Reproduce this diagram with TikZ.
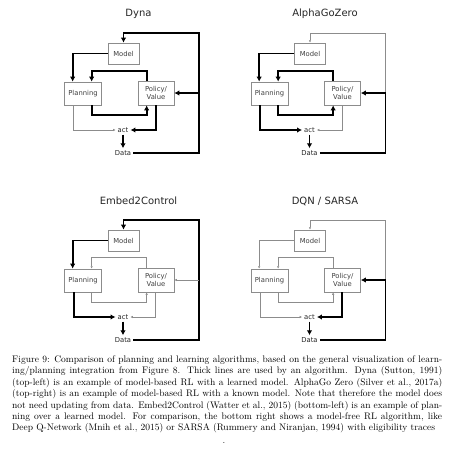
\documentclass[tikz,border=0pt]{standalone}
\usepackage{fontspec}
\newfontfamily\djv{DejaVu Sans}
\usetikzlibrary{arrows.meta}
\tikzset{
  thk/.style={line width=1.8pt, black, -{Latex[length=5pt,width=5.5pt]}},
  thkn/.style={line width=1.8pt, black},
  thn/.style={line width=0.5pt, black!45, -{Latex[length=2.4pt,width=2.4pt]}},
  thnn/.style={line width=0.5pt, black!45},
  bx/.style={draw=black!45, line width=0.7pt, fill=white, inner sep=0pt,
    font=\djv\fontsize{6.8}{8}\selectfont, text=black!75},
  lbl/.style={inner sep=2pt, font=\djv\fontsize{6.8}{8}\selectfont, text=black!85},
  ttl/.style={font=\djv\fontsize{10}{12}\selectfont, text=black!85},
}
\newcommand\panelnodes[2]{%
  \node[ttl] (#1t) at (138.5,14) {#2};
  \node[bx, minimum width=31pt, minimum height=21pt] (#1m) at (123.5,53.5) {Model};
  \node[bx, minimum width=37pt, minimum height=23pt] (#1p) at (83,93.5) {Planning};
  \node[bx, minimum width=36pt, minimum height=24pt, align=center] (#1v) at (156,93) {Policy/\\Value};
  \node[lbl] (#1a) at (123,130) {act};
  \node[lbl] (#1d) at (123,153) {Data};
  \coordinate (#1top) at (199,33);
  \coordinate (#1br) at (199,93);
}
\newcommand\eMP[2]{\draw[#2] (#1m.west) -| ([xshift=8.5pt]#1p.north west);}
\newcommand\eVP[2]{\draw[#2] ([xshift=9pt]#1v.north west) -- ++(0,-10) -| ([xshift=27.5pt]#1p.north west);}
\newcommand\ePV[2]{\draw[#2] ([xshift=27.5pt]#1p.south west) -- ++(0,10) -| ([xshift=9pt]#1v.south west);}
\newcommand\eVA[2]{\draw[#2] ([xshift=18pt]#1v.south west) |- (#1a.east);}
\newcommand\ePA[2]{\draw[#2] ([xshift=9.5pt]#1p.south west) |- (#1a.west);}
\newcommand\eAD[2]{\draw[#2] (#1a) -- (#1d);}
\newcommand\eRailFull[2]{\draw[#2] (#1d.east) -| (#1top) -| (#1m.north);}
\newcommand\eRailLow[2]{\draw[#2] (#1d.east) -| (#1br) -- (#1v.east);}
\newcommand\eRailUp[2]{\draw[#2] (#1br) -- (#1top) -| (#1m.north);}
\newcommand\eBranch[2]{\draw[#2] (#1br) -- (#1v.east);}
\begin{document}
\begin{tikzpicture}[x=1pt,y=-1pt]
\useasboundingbox (0,0) rectangle (474,450);
\fill[white] (0,0) rectangle (474,450);
% Dyna
\begin{scope}
  \panelnodes{A}{Dyna}
  \eMP{A}{thk} \eVP{A}{thk} \ePV{A}{thk} \eVA{A}{thk} \ePA{A}{thn} \eAD{A}{thk}
  \eRailFull{A}{thk} \eBranch{A}{thk}
\end{scope}
% AlphaGoZero
\begin{scope}[shift={(186.5,0)}]
  \panelnodes{B}{AlphaGoZero}
  \eMP{B}{thk} \eVP{B}{thk} \ePV{B}{thk} \eVA{B}{thn} \ePA{B}{thk} \eAD{B}{thk}
  \eRailUp{B}{thn} \eRailLow{B}{thk}
\end{scope}
% Embed2Control
\begin{scope}[shift={(0,187)}]
  \panelnodes{C}{Embed2Control}
  \eMP{C}{thk} \eVP{C}{thn} \ePV{C}{thn} \eVA{C}{thn} \ePA{C}{thk} \eAD{C}{thk}
  \eRailFull{C}{thk} \eBranch{C}{thn}
\end{scope}
% DQN / SARSA
\begin{scope}[shift={(186.5,187)}]
  \panelnodes{D}{DQN / SARSA}
  \eMP{D}{thn} \eVP{D}{thn} \ePV{D}{thn} \eVA{D}{thk} \ePA{D}{thn} \eAD{D}{thk}
  \eRailUp{D}{thn} \eRailLow{D}{thk}
\end{scope}
% caption
\node[anchor=north west, inner sep=0pt, text width=430pt, align=justify,
      font=\fontsize{9.5}{11.4}\selectfont] (cap) at (12,355.5) {%
\hyphenpenalty=10000 \exhyphenpenalty=10000
Figure 9: Comparison of planning and learning algorithms, based on the general visualization of learn-\linebreak
ing/planning integration from Figure 8. Thick lines are used by an algorithm. Dyna (Sutton, 1991)\linebreak
(top-left) is an example of model-based RL with a learned model. AlphaGo Zero (Silver et~al., 2017a)\linebreak
(top-right) is an example of model-based RL with a known model. Note that therefore the model does\linebreak
not need updating from data. Embed2Control (Watter et~al., 2015) (bottom-left) is an example of plan-\linebreak
ning over a learned model. For comparison, the bottom right shows a model-free RL algorithm, like\linebreak
Deep Q-Network (Mnih et~al., 2015) or SARSA (Rummery and Niranjan, 1994) with eligibility traces};
\node[anchor=base, inner sep=0pt, font=\fontsize{9.5}{11.4}\selectfont] (dot) at (224,443) {.};
\end{tikzpicture}
\end{document}
